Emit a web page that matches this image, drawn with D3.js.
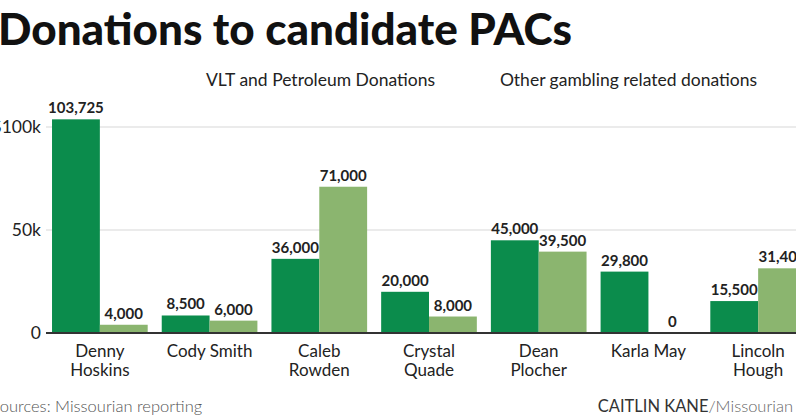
<!DOCTYPE html>
<html>
<head>
<meta charset="utf-8">
<script src="https://cdn.jsdelivr.net/npm/d3@7"></script>
<style>
  html, body { margin: 0; padding: 0; background: #fff; overflow: hidden; }
  svg { display: block; font-family: Lato, "Open Sans", sans-serif; }
</style>
</head>
<body>
<svg id="chart" width="796" height="418"></svg>
<script>
const title = "Donations to candidate PACs";
const categories = [["Denny", "Hoskins"], ["Cody Smith"], ["Caleb", "Rowden"], ["Crystal", "Quade"], ["Dean", "Plocher"], ["Karla May"], ["Lincoln", "Hough"]];
const seriesNames = ["VLT and Petroleum Donations", "Other gambling related donations"];
const vltPetroleum = [103725, 8500, 36000, 20000, 45000, 29800, 15500];
const otherGambling = [4000, 6000, 71000, 8000, 39500, 0, 31400];
const yTicks = [0, 50000, 100000];
const yTickLabels = ["0", "50k", "$100k"];
const source = "Sources: Missourian reporting";
const creditName = "CAITLIN KANE";
const creditOrg = "/Missourian";

const colors = ["#0b8c4c", "#8bb56f"];
const series = [vltPetroleum, otherGambling];

const svg = d3.select("#chart");
const W = 796, H = 418;

const x0 = d3.scaleBand().domain(d3.range(categories.length)).range([45, 813]).paddingInner(0.128).paddingOuter(0.064);
const x1 = d3.scaleBand().domain([0, 1]).range([0, x0.bandwidth()]);
const y = d3.scaleLinear().domain([0, 100000]).range([333, 127]);

// Title
svg.append("text").attr("x", -2).attr("y", 45)
  .attr("font-size", 44).attr("font-weight", 900).attr("fill", "#111")
  .text(title);

// Legend labels
svg.append("text").attr("x", 320.5).attr("y", 86).attr("text-anchor", "middle")
  .attr("font-size", 17.5).attr("fill", "#222").text(seriesNames[0]);
svg.append("text").attr("x", 628.5).attr("y", 86).attr("text-anchor", "middle")
  .attr("font-size", 17.5).attr("fill", "#222").text(seriesNames[1]);

// Gridlines
svg.append("g").selectAll("line").data(yTicks.filter(d => d > 0)).join("line")
  .attr("x1", 46).attr("x2", W).attr("y1", d => y(d)).attr("y2", d => y(d))
  .attr("stroke", "#e4e4e4").attr("stroke-width", 1.5);

// Y tick labels
svg.append("g").selectAll("text").data(yTicks).join("text")
  .attr("x", 41).attr("y", d => y(d)).attr("dy", "0.35em").attr("text-anchor", "end")
  .attr("font-size", 17.5).attr("fill", "#222")
  .text((d, i) => yTickLabels[i]);

// Bars
const groups = svg.append("g").selectAll("g").data(categories).join("g")
  .attr("transform", (d, i) => `translate(${x0(i)},0)`);

groups.each(function(c, i) {
  const g = d3.select(this);
  series.forEach((s, k) => {
    const v = s[i];
    g.append("rect")
      .attr("x", x1(k)).attr("width", x1.bandwidth())
      .attr("y", y(v)).attr("height", y(0) - y(v))
      .attr("fill", colors[k]);
    g.append("text")
      .attr("x", x1(k) + x1.bandwidth() / 2).attr("y", y(v) - 6)
      .attr("text-anchor", "middle").attr("font-size", 15).attr("font-weight", 700)
      .style("font-variant-numeric", "tabular-nums")
      .attr("fill", "#222").text(d3.format(",")(v));
  });
  const t = g.append("text").attr("x", x0.bandwidth() / 2).attr("y", 357)
    .attr("text-anchor", "middle").attr("font-size", 17).attr("fill", "#222");
  c.forEach((line, li) => {
    t.append("tspan").attr("x", x0.bandwidth() / 2).attr("dy", li === 0 ? 0 : 19).text(line);
  });
});

// Baseline
svg.append("line").attr("x1", 46).attr("x2", W).attr("y1", y(0)).attr("y2", y(0))
  .attr("stroke", "#333").attr("stroke-width", 2);

// Footer
svg.append("text").attr("x", -9).attr("y", 412).attr("font-size", 16.5).attr("font-weight", 300)
  .attr("fill", "#555").text(source);
const cr = svg.append("text").attr("x", 793).attr("y", 412).attr("text-anchor", "end")
  .attr("font-size", 16.5).attr("fill", "#333");
cr.append("tspan").attr("font-weight", 400).text(creditName);
cr.append("tspan").attr("font-weight", 300).attr("fill", "#666").text(creditOrg);
</script>
</body>
</html>
